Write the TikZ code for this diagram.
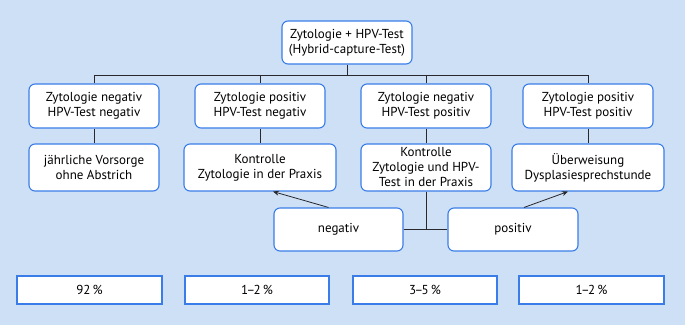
\documentclass[tikz,border=0pt]{standalone}
\usepackage{fontspec}
\setmainfont{PT Sans}
\usetikzlibrary{arrows.meta,positioning,calc}
\definecolor{bgblue}{RGB}{205,224,246}
\definecolor{boxblue}{RGB}{58,125,232}
\definecolor{linegray}{RGB}{40,40,45}
\tikzset{
    stepbox/.style={rectangle, rounded corners=6pt, draw=boxblue, fill=white, line width=1.1pt,
        align=center, minimum width=130pt, minimum height=44pt, inner sep=2pt,
        font=\fontsize{13}{15}\selectfont},
    pctbox/.style={rectangle, draw=boxblue, fill=white, line width=1.1pt,
        minimum width=145pt, minimum height=28pt, inner sep=0pt,
        font=\fontsize{13}{15}\selectfont},
    link/.style={line width=0.8pt, linegray},
    arr/.style={line width=0.8pt, linegray, -{Stealth[length=6pt,width=5pt]}},
}
\newcommand{\rng}[2]{#1\kern-1.5pt–\kern-1.5pt#2\,\%}

\begin{document}
\begin{tikzpicture}[x=1pt, y=-1pt]
    \fill[bgblue] (0,0) rectangle (685,325);
    \useasboundingbox (0,0) rectangle (685,325);

    % root
    \node[stepbox, minimum height=43pt] (top) at (347,42.5) {Zytologie + HPV-Test\\(Hybrid-capture-Test)};

    % results of both tests
    \node[stepbox] (a1) at (94,106) {Zytologie negativ\\HPV-Test negativ};
    \node[stepbox] (a2) at (260,106) {Zytologie positiv\\HPV-Test negativ};
    \node[stepbox] (a3) at (426,106) {Zytologie negativ\\HPV-Test positiv};
    \node[stepbox] (a4) at (588,106) {Zytologie positiv\\HPV-Test positiv};

    % what follows
    \node[stepbox, minimum height=47pt] (b1) at (94,167.5) {jährliche Vorsorge\\ohne Abstrich};
    \node[stepbox, minimum height=47pt, minimum width=152pt] (b2) at (260,167.5) {Kontrolle\\Zytologie in der Praxis};
    \node[stepbox, minimum height=47pt] (b3) at (426,167.5) {Kontrolle\\Zytologie und HPV-\\Test in der Praxis};
    \node[stepbox, minimum height=47pt, minimum width=152pt] (b4) at (588,167.5) {Überweisung\\Dysplasiesprechstunde};

    \node[stepbox, minimum height=43pt, minimum width=129pt] (neg) at (338.5,229.5) {negativ};
    \node[stepbox, minimum height=43pt] (pos) at (513,229.5) {positiv};

    % shares
    \node[pctbox] (p1) at (89.5,290) {92\,\%};
    \node[pctbox, minimum width=144pt] (p2) at (257,290) {\rng{1}{2}};
    \node[pctbox, minimum width=144pt] (p3) at (425,290) {\rng{3}{5}};
    \node[pctbox] (p4) at (591.5,290) {\rng{1}{2}};

    % connectors
    \coordinate (bar) at (347,75);
    \draw[link] (top) -- (bar);
    \draw[link] (a1.north |- bar) -- (a4.north |- bar);
    \foreach \i in {1,...,4} {
        \draw[link] (a\i.north |- bar) -- (a\i);
        \draw[link] (a\i) -- (b\i);
    }
    \draw[link] (b3) -- (b3 |- neg);
    \draw[link] (neg) -- (pos);
    \draw[arr] ([xshift=-10pt]neg.north) -- ([xshift=13pt]b2.south);
    \draw[arr] ([xshift=11pt]pos.north) -- ([xshift=-20pt]b4.south);
\end{tikzpicture}
\end{document}
